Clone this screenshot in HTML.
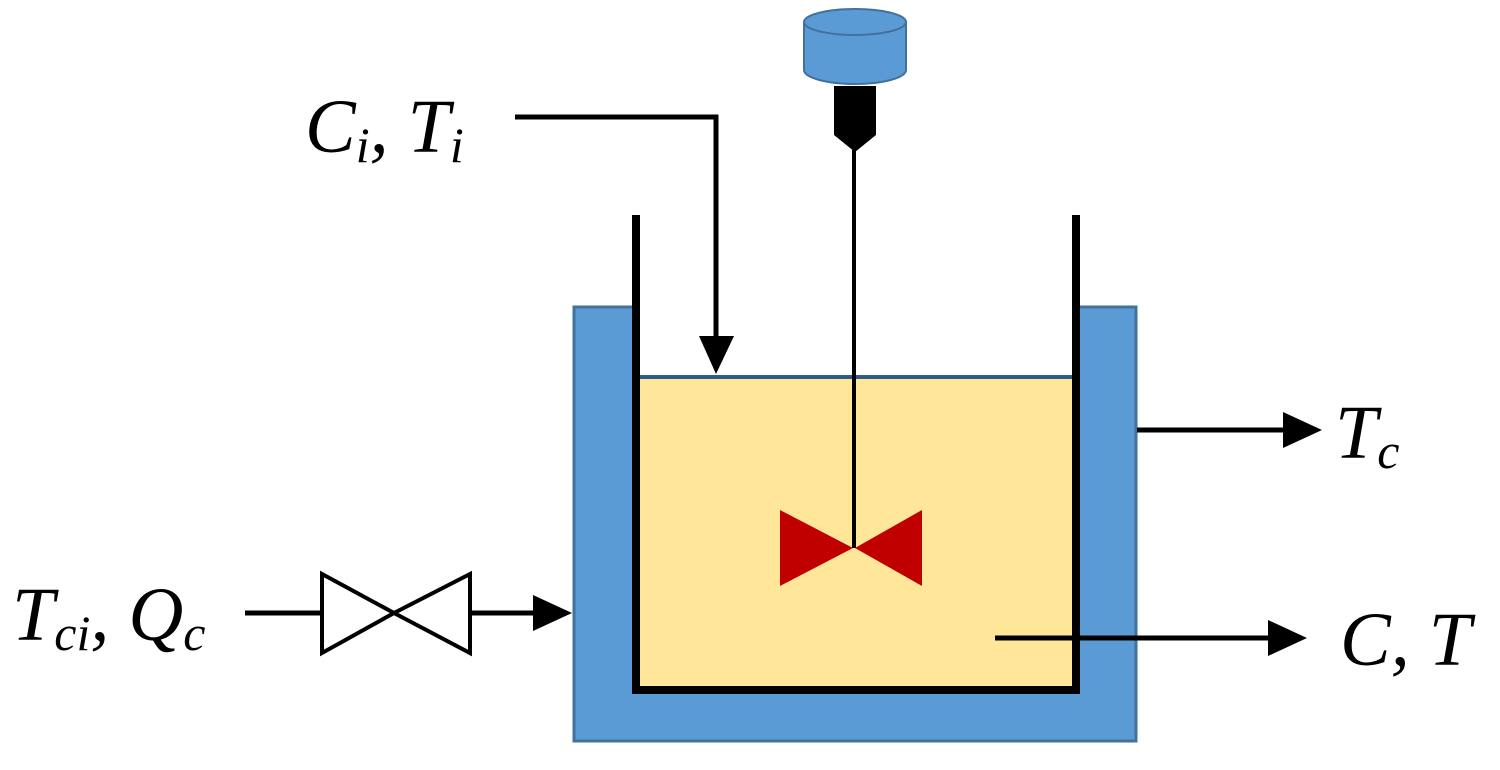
<!DOCTYPE html>
<html><head><style>body{margin:0;background:#fff}svg{display:block}</style></head><body>
<svg width="1500" height="770" viewBox="0 0 1500 770" xmlns="http://www.w3.org/2000/svg" font-family="'Liberation Serif', serif">
<rect x="574" y="307" width="562" height="434" fill="#5B9BD5" stroke="#41719C" stroke-width="3"/>
<rect x="640" y="305" width="432" height="72" fill="#fff"/>
<rect x="640" y="377" width="432" height="309" fill="#FFE699"/>
<line x1="640" y1="377" x2="1072" y2="377" stroke="#2E5C8A" stroke-width="4"/>
<polyline points="636,215 636,690 1076,690 1076,215" fill="none" stroke="#000" stroke-width="8"/>
<!-- motor -->
<path d="M804,22 L804,70 A51,14 0 0 0 906,70 L906,22 Z" fill="#5B9BD5" stroke="#41719C" stroke-width="2"/>
<ellipse cx="855" cy="22" rx="51" ry="13" fill="#5B9BD5" stroke="#41719C" stroke-width="2"/>
<polygon points="834,86 876,86 876,135 855,152 834,135" fill="#000"/>
<line x1="854" y1="150" x2="854" y2="548" stroke="#000" stroke-width="4"/>
<polygon points="780,510 780,586 853,548" fill="#C00000"/>
<polygon points="922,510 922,586 855,548" fill="#C00000"/>
<!-- feed -->
<polyline points="515,117 716,117 716,340" fill="none" stroke="#000" stroke-width="5"/>
<polygon points="699,336 734,336 716,374" fill="#000"/>
<!-- Tc -->
<line x1="1137" y1="430" x2="1285" y2="430" stroke="#000" stroke-width="5"/>
<polygon points="1283,412 1283,448 1322,430" fill="#000"/>
<!-- C,T -->
<line x1="995" y1="638" x2="1270" y2="638" stroke="#000" stroke-width="5"/>
<polygon points="1268,620 1268,656 1307,638" fill="#000"/>
<!-- valve -->
<line x1="245" y1="613" x2="322" y2="613" stroke="#000" stroke-width="5"/>
<polygon points="322,574 322,653 394,613 470,574 470,653 394,613" fill="#fff" stroke="#000" stroke-width="4"/>
<line x1="470" y1="613" x2="535" y2="613" stroke="#000" stroke-width="5"/>
<polygon points="533,595 533,631 572,613" fill="#000"/>
<!-- labels -->
<text x="305" y="152" font-size="76" font-style="italic">C<tspan font-size="50" dy="10">i</tspan><tspan dy="-10">, T</tspan><tspan font-size="50" dy="10">i</tspan></text>
<text x="1335" y="458" font-size="76" font-style="italic">T<tspan font-size="50" dy="10">c</tspan></text>
<text x="1340" y="665" font-size="76" font-style="italic">C, T</text>
<text x="12" y="640" font-size="76" font-style="italic">T<tspan font-size="50" dy="10">ci</tspan><tspan dy="-10">, Q</tspan><tspan font-size="50" dy="10">c</tspan></text>
</svg>
</body></html>
